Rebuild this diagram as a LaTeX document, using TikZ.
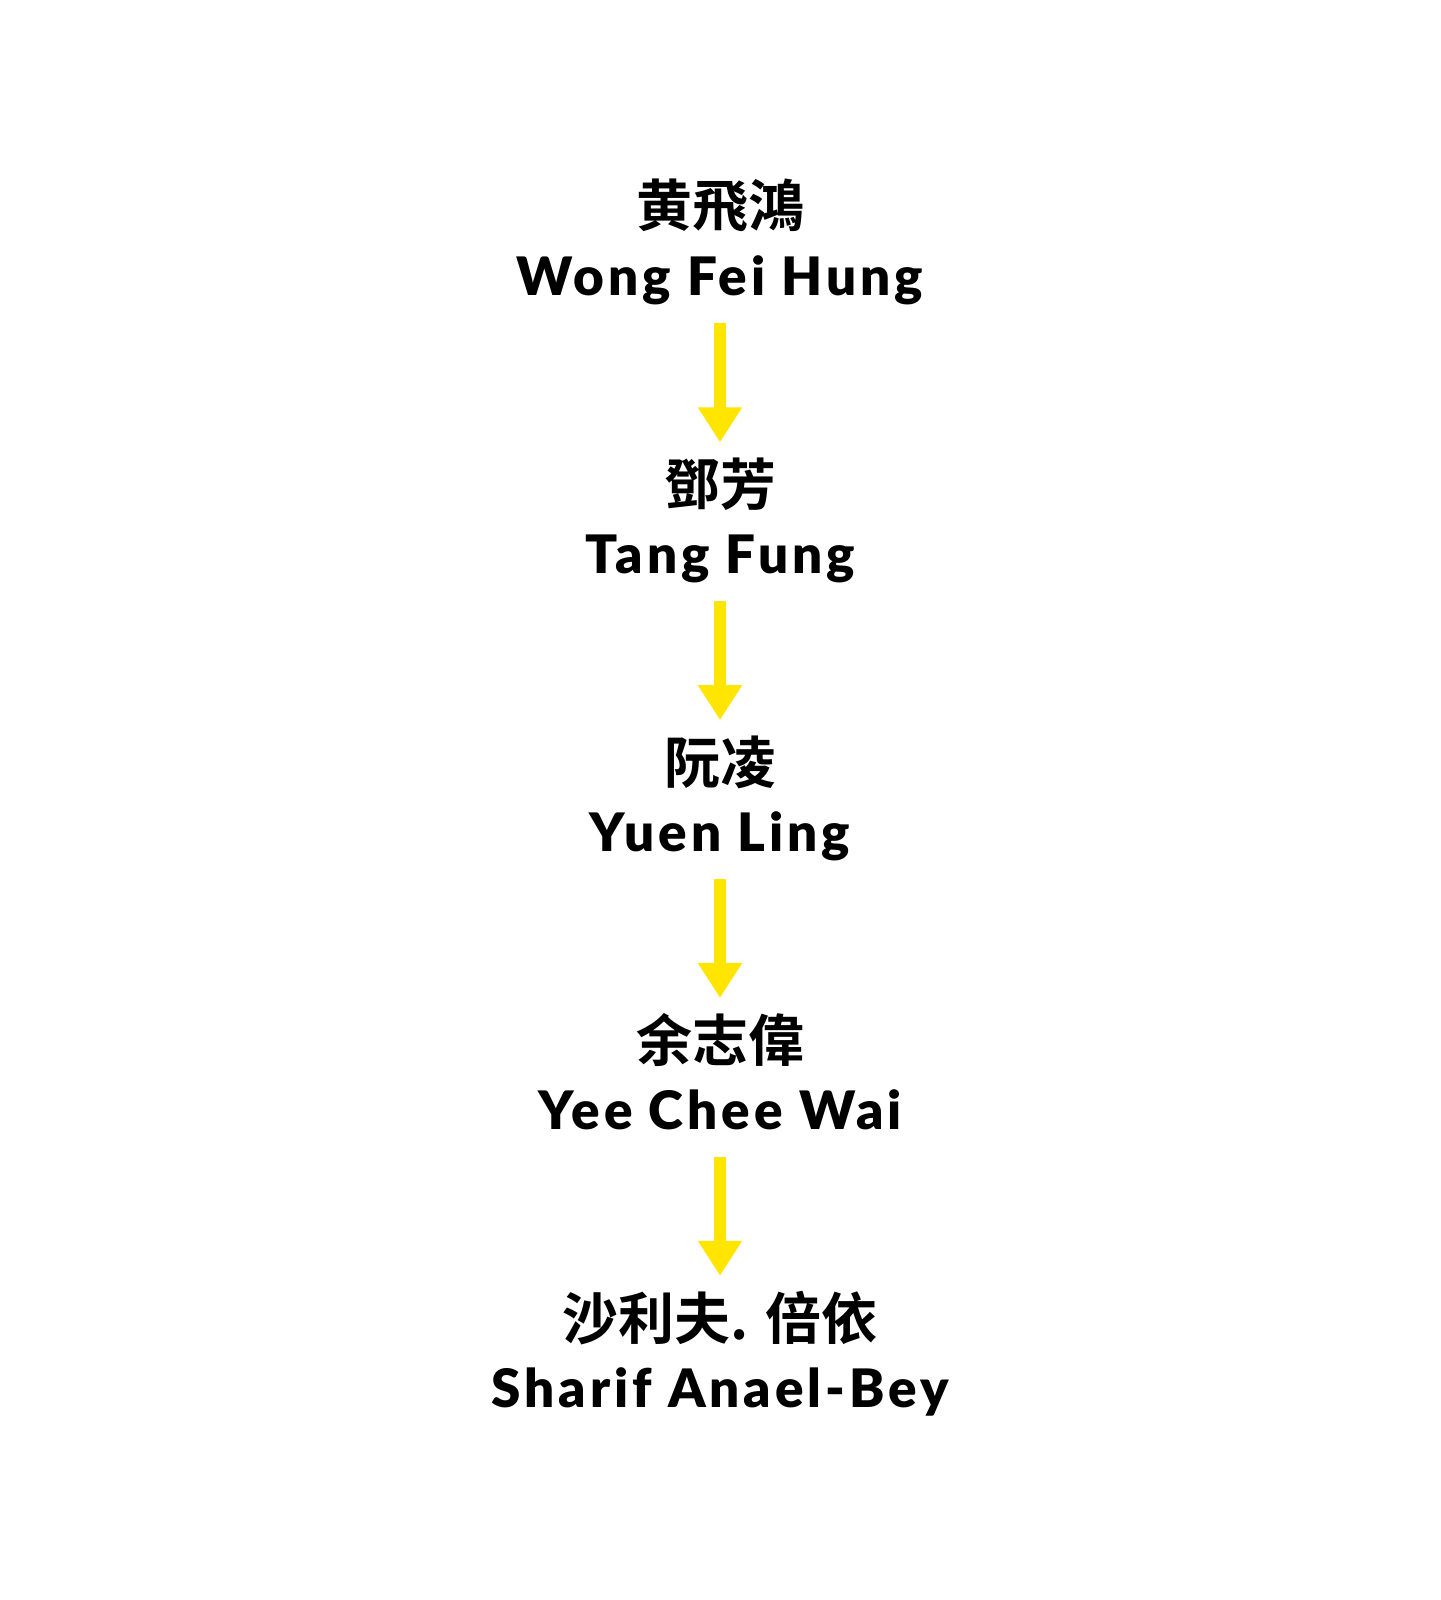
\documentclass[tikz,border=0pt]{standalone}
\usepackage{fontspec}
\setmainfont{Lato}[BoldFont={Lato Black}, BoldFeatures={LetterSpace=7.5}]
\newfontfamily\cjk{Noto Sans CJK TC}[BoldFont={Noto Sans CJK TC Bold}]
\usetikzlibrary{arrows.meta}
\definecolor{flowyellow}{HTML}{FFE500}
\begin{document}
\begin{tikzpicture}[x=0.5pt,y=-0.5pt,
  cjkname/.style={font=\cjk\bfseries\fontsize{28}{28}\selectfont, inner sep=0pt, anchor=center},
  latname/.style={font=\bfseries\fontsize{26.5}{26.5}\selectfont, inner sep=0pt, anchor=base, text depth=0pt},
  flow/.style={draw=flowyellow, line width=6pt, -{Triangle[width=21pt,length=17.5pt]}, shorten <=14pt, shorten >=7.5pt}]
\useasboundingbox (0,0) rectangle (1440,1600);
\node[cjkname] (c0) at (720,206) {黄飛鴻};
\node[latname] (l0) at (720,295) {Wong Fei Hung};
\node[cjkname] (c1) at (720,484) {鄧芳};
\node[latname] (l1) at (720,573) {Tang Fung};
\node[cjkname] (c2) at (720,762) {阮凌};
\node[latname] (l2) at (720,851) {Yuen Ling};
\node[cjkname] (c3) at (720,1040) {余志偉};
\node[latname] (l3) at (720,1129) {Yee Chee Wai};
\node[cjkname] (c4) at (720,1318) {沙利夫. 倍依};
\node[latname] (l4) at (720,1407) {Sharif Anael-Bey};
\draw[flow] (l0.south) -- (c1.north);
\draw[flow] (l1.south) -- (c2.north);
\draw[flow] (l2.south) -- (c3.north);
\draw[flow] (l3.south) -- (c4.north);
\end{tikzpicture}
\end{document}
